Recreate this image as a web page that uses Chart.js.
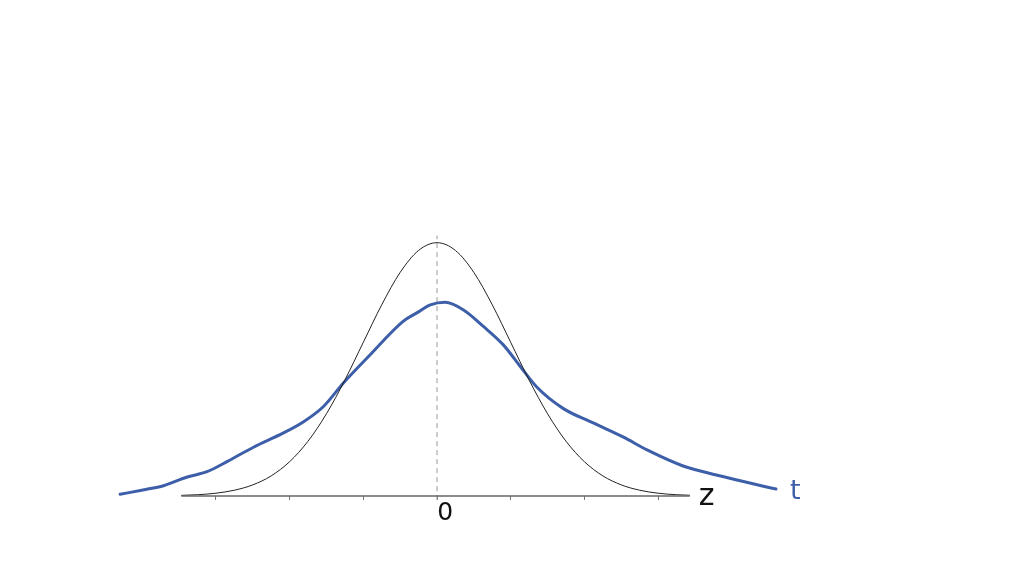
<!DOCTYPE html>
<html>
<head>
<meta charset="utf-8">
<script src="https://cdn.jsdelivr.net/npm/chart.js@4.4.1/dist/chart.umd.min.js"></script>
<style>
html,body{margin:0;padding:0;background:#fff;}
#wrap{width:1024px;height:576px;position:relative;}
</style>
</head>
<body>
<div id="wrap"><canvas id="c" width="1024" height="576"></canvas></div>
<script>
// z values and standard-normal density (black curve)
const normalZ = [-3.47,-3.25,-3.0,-2.75,-2.5,-2.25,-2.0,-1.75,-1.5,-1.25,-1.0,-0.75,-0.5,-0.25,0,0.25,0.5,0.75,1.0,1.25,1.5,1.75,2.0,2.25,2.5,2.75,3.0,3.25,3.43];
const normalD = [0.001,0.002,0.0044,0.0091,0.0175,0.0317,0.054,0.0863,0.1295,0.1826,0.242,0.3011,0.3521,0.3867,0.3989,0.3867,0.3521,0.3011,0.242,0.1826,0.1295,0.0863,0.054,0.0317,0.0175,0.0091,0.0044,0.002,0.0012];

// hand-drawn t curve (blue)
const tZ = [-4.30,-3.99,-3.71,-3.40,-3.12,-2.85,-2.49,-2.09,-1.81,-1.54,-1.27,-0.91,-0.46,-0.28,-0.09,0.11,0.36,0.63,0.90,1.13,1.35,1.71,2.12,2.53,2.85,3.34,3.79,4.60];
const tD = [0.0027,0.0095,0.0162,0.0295,0.0383,0.0541,0.0768,0.0989,0.117,0.141,0.178,0.222,0.275,0.288,0.301,0.305,0.293,0.267,0.238,0.204,0.172,0.138,0.115,0.0926,0.0726,0.0473,0.0331,0.0110];

// dashed centre line
const centreZ = [0, 0];
const centreD = [-0.0065, 0.41];

// horizontal axis line extent
const axisZ = [-3.47, 3.43];
const axisD = [0, 0];

// scale range and ticks
const xMin = -5, xMax = 6;
const tickValues = [-3,-2,-1,0,1,2,3];
const labels = [
  {text:'0', z:0.11, dy:17, color:'#111', font:'25px "DejaVu Sans"'},
  {text:'z', z:3.66, dy:1, color:'#111', font:'30px "DejaVu Sans"'},
  {text:'t', z:4.86, dy:-4, color:'#3d5ea9', font:'27px "DejaVu Sans"'}
];

const toPts = (xs, ys) => xs.map((x, i) => ({x: x, y: ys[i]}));

const labelPlugin = {
  id: 'labelPlugin',
  afterDraw(chart) {
    const ctx = chart.ctx;
    const xs = chart.scales.x, ys = chart.scales.y;
    ctx.save();
    ctx.textAlign = 'center';
    ctx.textBaseline = 'middle';
    labels.forEach(l => {
      ctx.font = l.font;
      ctx.fillStyle = l.color;
      ctx.fillText(l.text, xs.getPixelForValue(l.z), ys.getPixelForValue(0) + l.dy);
    });
    ctx.restore();
  }
};

new Chart(document.getElementById('c'), {
  type: 'scatter',
  data: {
    datasets: [
      {
        data: toPts(axisZ, axisD),
        showLine: true, borderColor: '#666', borderWidth: 1.5,
        pointRadius: 0, clip: false
      },
      {
        data: toPts(centreZ, centreD),
        showLine: true, borderColor: '#999', borderWidth: 1,
        borderDash: [5, 4], pointRadius: 0, clip: false
      },
      {
        data: toPts(normalZ, normalD),
        showLine: true, borderColor: '#222', borderWidth: 1,
        cubicInterpolationMode: 'monotone', pointRadius: 0, clip: false
      },
      {
        data: toPts(tZ, tD),
        showLine: true, borderColor: '#3d5ea9', borderWidth: 3,
        cubicInterpolationMode: 'monotone', pointRadius: 0, clip: false,
        borderCapStyle: 'round', borderJoinStyle: 'round'
      }
    ]
  },
  options: {
    responsive: false,
    animation: false,
    events: [],
    layout: { padding: { left: 68.5, right: 144.8, top: 242, bottom: 76 } },
    plugins: { legend: { display: false }, tooltip: { enabled: false } },
    scales: {
      x: {
        type: 'linear', min: xMin, max: xMax,
        afterBuildTicks: (axis) => { axis.ticks = tickValues.map(v => ({value: v})); },
        ticks: { display: false },
        grid: { drawOnChartArea: false, drawTicks: true, tickLength: 4, color: '#777', lineWidth: 1 },
        border: { display: false }
      },
      y: { display: false, min: 0, max: 0.4 }
    }
  },
  plugins: [labelPlugin]
});
</script>
</body>
</html>
